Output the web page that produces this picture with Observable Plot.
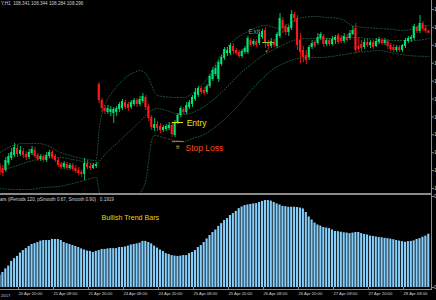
<!DOCTYPE html>
<html><head><meta charset="utf-8">
<script src="https://cdn.jsdelivr.net/npm/d3@7"></script>
<script src="https://cdn.jsdelivr.net/npm/@observablehq/plot@0.6"></script>
<style>
html,body{margin:0;padding:0;background:#000;overflow:hidden}
#wrap{position:relative;width:436px;height:300px;background:#000;overflow:hidden;font-family:"Liberation Sans",Arial,sans-serif}
.abs{position:absolute}
.lbl{white-space:pre;color:#d0d0d0;line-height:1}
</style></head><body>
<div id="wrap">
  <div id="main" class="abs" style="left:0;top:0"></div>
  <div id="sub" class="abs" style="left:0;top:194px"></div>
  <div class="abs" style="left:0;top:193px;width:432px;height:2px;background:#8a8a8a"></div>
  <div class="abs" style="left:431px;top:0;width:1px;height:290px;background:#8a8a8a"></div>
  <div class="abs" style="left:0;top:289px;width:432px;height:1px;background:#8a8a8a"></div>
  <div id="title" class="abs lbl" style="left:1px;top:2px;font-size:4.6px"></div>
  <div id="ind" class="abs lbl" style="left:0;top:197.5px;font-size:4.6px"></div>
</div>
<script>
const symbolTitle = "Y,H1  108.341 108.344 108.284 108.296";
const indicatorTitle = "ars (iPeriods 120, pSmooth 0.67, Smooth 0.90)   0.1919";

// OHLC, hourly bars (index 0 = 20 Apr 2017 14:00)
const open = [105.65,105.59,105.55,105.69,105.79,105.85,105.99,105.87,105.93,105.87,
105.81,105.89,105.95,105.85,105.77,105.83,105.75,105.83,105.91,105.83,
105.75,105.67,105.61,105.67,105.59,105.65,105.59,105.55,105.51,105.47,
105.69,105.63,105.59,105.63,107.27,106.95,106.79,106.71,106.71,106.69,
106.71,106.77,106.79,106.91,106.87,106.81,106.87,106.95,106.87,106.93,
107.01,106.83,106.61,106.39,106.47,106.43,106.35,106.37,106.39,106.45,
106.25,106.51,106.65,106.77,106.71,106.81,106.87,106.97,107.05,107.19,
107.15,107.11,107.23,107.37,107.47,107.37,107.67,107.79,107.89,107.89,
108.03,107.95,107.91,107.83,107.91,107.91,108.15,108.07,108.13,108.09,
108.21,108.35,108.11,108.03,108.11,108.03,108.23,108.55,108.43,108.31,
108.39,108.67,108.59,108.15,107.95,107.85,107.81,108.01,108.11,108.09,
108.19,108.23,108.07,108.15,108.07,108.15,108.25,108.19,108.13,108.21,
108.19,108.27,108.39,108.03,108.07,108.01,108.11,108.05,108.11,108.03,
108.11,108.15,108.09,108.13,108.05,108.01,107.95,108.01,107.95,108.03,
108.13,108.17,108.19,108.41,108.33,108.49,108.39,108.341];
const high = [105.69,105.65,105.81,105.89,105.99,106.09,106.05,106.03,105.99,105.93,
105.97,106.03,106.01,105.89,105.87,105.87,105.91,105.95,105.95,105.87,
105.79,105.71,105.73,105.71,105.69,105.69,105.65,105.61,105.55,105.79,
105.75,105.69,105.69,105.71,107.31,106.99,106.85,106.85,106.83,106.81,
106.83,106.91,106.97,106.95,106.91,106.95,106.99,106.99,107.03,107.09,
107.05,106.87,106.65,106.59,106.53,106.49,106.45,106.47,106.51,106.51,
106.55,106.69,106.83,106.81,106.91,106.95,107.05,107.19,107.23,107.23,
107.21,107.27,107.47,107.61,107.65,107.75,107.85,108.01,108.01,108.09,
108.09,107.99,107.95,107.97,108.03,108.23,108.19,108.17,108.17,108.31,
108.37,108.41,108.15,108.19,108.17,108.31,108.69,108.61,108.47,108.45,
108.75,108.71,108.65,108.29,108.03,107.95,108.05,108.15,108.15,108.29,
108.31,108.27,108.19,108.19,108.23,108.25,108.29,108.25,108.29,108.27,
108.35,108.43,108.49,108.19,108.15,108.17,108.19,108.15,108.15,108.19,
108.21,108.19,108.19,108.17,108.09,108.07,108.05,108.05,108.07,108.19,
108.23,108.25,108.47,108.45,108.65,108.53,108.45,108.344];
const low = [105.45,105.43,105.51,105.65,105.75,105.81,105.81,105.83,105.79,105.75,
105.77,105.85,105.79,105.73,105.73,105.71,105.71,105.79,105.77,105.71,
105.61,105.57,105.57,105.55,105.55,105.53,105.49,105.45,105.41,105.35,
105.57,105.55,105.57,105.59,106.89,106.71,106.67,106.67,106.63,106.49,
106.63,106.71,106.75,106.77,106.73,106.77,106.83,106.81,106.83,106.89,
106.75,106.53,106.35,106.33,106.33,106.29,106.31,106.33,106.35,106.21,
106.21,106.47,106.61,106.67,106.67,106.77,106.81,106.93,107.01,107.07,
107.05,107.07,107.19,107.33,107.43,107.31,107.63,107.75,107.83,107.85,
107.87,107.85,107.79,107.79,107.87,107.87,108.01,108.03,108.01,108.05,
108.17,107.99,107.97,107.99,108.01,107.99,108.19,108.29,108.25,108.23,
108.35,108.51,107.95,107.69,107.71,107.67,107.75,107.97,107.99,108.05,
108.15,108.01,108.03,108.03,108.05,108.07,108.07,108.09,108.09,108.11,
108.15,108.25,107.89,107.91,107.93,107.97,108.01,107.99,107.97,108.01,
108.07,108.05,108.05,107.97,107.93,107.91,107.91,107.91,107.91,107.99,
108.09,108.11,108.15,108.29,108.29,108.33,108.29,108.284];
const close = [105.51,105.49,105.75,105.83,105.91,106.01,105.87,105.95,105.85,105.81,
105.91,105.97,105.83,105.77,105.83,105.75,105.85,105.91,105.81,105.75,
105.65,105.61,105.69,105.59,105.65,105.57,105.53,105.49,105.47,105.69,
105.61,105.59,105.65,105.67,106.95,106.79,106.73,106.79,106.77,106.77,
106.79,106.87,106.93,106.81,106.79,106.91,106.95,106.87,106.97,107.03,
106.81,106.59,106.41,106.47,106.39,106.35,106.41,106.43,106.45,106.27,
106.51,106.65,106.79,106.71,106.85,106.91,107.01,107.11,107.19,107.11,
107.09,107.23,107.43,107.55,107.59,107.71,107.81,107.97,107.95,108.05,
107.93,107.89,107.83,107.93,107.99,108.19,108.05,108.13,108.05,108.27,
108.33,108.09,108.03,108.13,108.05,108.27,108.59,108.39,108.31,108.41,
108.67,108.59,108.05,107.91,107.81,107.75,108.01,108.09,108.03,108.21,
108.27,108.07,108.15,108.07,108.17,108.21,108.11,108.13,108.23,108.15,
108.29,108.35,107.95,107.97,107.99,108.11,108.05,108.11,108.01,108.13,
108.17,108.09,108.15,108.03,107.97,107.95,108.01,107.95,108.05,108.15,
108.19,108.21,108.43,108.33,108.49,108.37,108.33,108.296];

// Bollinger bands, read at selected bars
const upperIdx = [0,3,8,13,17,20,24,28,33,34,35,36,38,40,42,44,46,48,49,50,51,52,53,54,56,60,63,65,67,69,71,73,75,77,79,81,83,85,88,91,94,96,98,100,102,104,108,112,116,118,120,122,125,130,135,138,141,144,147];
const upperVal = [105.91,106.01,106.09,106.09,106.03,105.93,105.85,105.79,105.75,106.39,106.69,106.87,107.07,107.23,107.35,107.45,107.51,107.55,107.53,107.49,107.39,107.25,107.11,107.05,107.03,107.01,107.01,107.05,107.15,107.25,107.39,107.59,107.79,107.95,108.09,108.19,108.27,108.33,108.41,108.45,108.41,108.39,108.45,108.51,108.59,108.61,108.63,108.61,108.59,108.55,108.47,108.43,108.41,108.39,108.37,108.35,108.37,108.43,108.45];
const midIdx = [0,5,10,15,20,25,30,33,34,36,40,44,48,50,52,54,57,60,63,66,70,74,78,82,86,90,94,98,102,106,110,114,118,122,126,130,134,138,142,147];
const midVal = [105.55,105.63,105.73,105.79,105.81,105.77,105.71,105.67,105.73,105.87,106.09,106.31,106.53,106.65,106.75,106.79,106.75,106.69,106.67,106.71,106.83,107.01,107.23,107.47,107.67,107.85,107.97,108.09,108.17,108.19,108.19,108.19,108.21,108.21,108.19,108.17,108.15,108.15,108.15,108.19];
const lowerIdx = [0,5,10,15,20,25,30,33,34,35,36,40,44,47,49,50,51,52,53,56,60,63,66,70,74,78,82,86,90,94,98,102,106,110,116,120,126,130,134,140,147];
const lowerVal = [105.19,105.17,105.17,105.21,105.23,105.29,105.37,105.41,105.13,104.95,104.75,104.65,104.85,105.05,105.19,105.35,105.75,106.15,106.25,106.21,106.15,106.13,106.19,106.27,106.43,106.63,106.87,107.15,107.39,107.59,107.71,107.79,107.81,107.81,107.85,107.89,107.93,107.95,107.91,107.85,107.83];

// Bullish Trend Bars histogram (one value per bar)
const trend = [0.045,0.054,0.067,0.077,0.094,0.104,0.112,0.124,0.133,0.140,
0.148,0.155,0.158,0.162,0.167,0.169,0.169,0.169,0.173,0.173,
0.173,0.169,0.162,0.158,0.155,0.151,0.148,0.144,0.139,0.135,
0.131,0.130,0.126,0.130,0.133,0.137,0.137,0.139,0.140,0.140,
0.140,0.144,0.144,0.146,0.149,0.153,0.155,0.157,0.160,0.166,
0.166,0.162,0.157,0.149,0.142,0.135,0.130,0.122,0.119,0.115,
0.113,0.112,0.113,0.115,0.115,0.122,0.126,0.133,0.144,0.151,
0.162,0.175,0.187,0.198,0.207,0.220,0.230,0.241,0.248,0.259,
0.266,0.274,0.284,0.290,0.295,0.297,0.299,0.301,0.302,0.306,
0.310,0.313,0.313,0.311,0.306,0.301,0.297,0.292,0.291,0.289,
0.289,0.289,0.288,0.286,0.283,0.270,0.254,0.243,0.232,0.225,
0.221,0.216,0.214,0.212,0.207,0.202,0.201,0.199,0.197,0.196,
0.194,0.196,0.198,0.198,0.194,0.191,0.189,0.185,0.184,0.182,
0.180,0.179,0.177,0.176,0.174,0.172,0.169,0.167,0.165,0.163,
0.165,0.166,0.168,0.173,0.176,0.181,0.185,0.1919];

const timeTickIdx = [6,18,30,42,54,66,78,90,102,114,126,138];
const timeTickLabels = ["20 Apr 20:00","21 Apr 08:00","21 Apr 20:00","24 Apr 08:00","24 Apr 20:00","25 Apr 08:00","25 Apr 20:00","26 Apr 08:00","26 Apr 20:00","27 Apr 08:00","27 Apr 20:00","28 Apr 08:00"];
const firstDateLabel = "2017";
const priceTicks = [108.770,108.412,108.054,107.696,107.338,106.980,106.622,106.264,105.906,105.548,105.190];

// Trade annotations
const entryTrade = {price: 106.51, from: 59.1, to: 62.9, label: "Entry", labelAt: 64.0, labelPrice: 106.49};
const stopTrade = {price: 106.13, from: 59.1, to: 63.2, label: "Stop Loss", labelAt: 63.6, labelPrice: 105.99, markAt: 60.9, markPrice: 106.01};
const exitTrade = {price: 108.11, from: 90.0, to: 94.1, label: "Exit", labelAt: 85.2, labelPrice: 108.33, markAt: 91.7, markPrice: 107.95};

const BULL = "#00e676", BEAR = "#ff1a1a", BAND = "#1b5c3c";
const XDOM = [0.171, 147.93];

const bars = open.map((o, i) => ({i, open: o, high: high[i], low: low[i], close: close[i], col: close[i] >= o ? BULL : BEAR}));
const pts = (idx, val) => idx.map((i, k) => ({i, v: val[k]}));
const bandStyle = {x: "i", y: "v", stroke: BAND, strokeWidth: 1, strokeDasharray: "1 1.8", curve: "monotone-x", clip: true};

const main = Plot.plot({
  width: 436, height: 194,
  marginTop: 0, marginBottom: 1, marginLeft: 0, marginRight: 5,
  style: {background: "#000", color: "#c8c8c8", fontFamily: "Liberation Sans, Arial, sans-serif", fontSize: "5px"},
  x: {domain: XDOM, axis: null},
  y: {domain: [105.09, 108.95], axis: null},
  marks: [
    Plot.line(pts(upperIdx, upperVal), bandStyle),
    Plot.line(pts(midIdx, midVal), bandStyle),
    Plot.line(pts(lowerIdx, lowerVal), bandStyle),
    Plot.ruleX(bars, {x: "i", y1: "low", y2: "high", stroke: "col", strokeWidth: 1, strokeOpacity: 0.85}),
    Plot.rect(bars, {x1: d => d.i - 0.34, x2: d => d.i + 0.34, y1: "open", y2: "close", fill: "col"}),
    Plot.ruleY([entryTrade], {y: "price", x1: "from", x2: "to", stroke: "#e8e800", strokeWidth: 1}),
    Plot.ruleY([stopTrade], {y: "price", x1: "from", x2: "to", stroke: "#ff4a1a", strokeWidth: 1.2}),
    Plot.ruleY([exitTrade], {y: "price", x1: "from", x2: "to", stroke: "#7acc3a", strokeWidth: 1}),
    Plot.text([entryTrade], {x: "labelAt", y: "labelPrice", text: "label", fill: "#e6e600", fontSize: 8.5, textAnchor: "start"}),
    Plot.text([stopTrade], {x: "labelAt", y: "labelPrice", text: "label", fill: "#ff4a1a", fontSize: 8.5, textAnchor: "start"}),
    Plot.text([stopTrade], {x: "markAt", y: "markPrice", text: () => "θ", fill: "#d8a020", fontSize: 6}),
    Plot.text([exitTrade], {x: "labelAt", y: "labelPrice", text: "label", fill: "#4caf50", fontSize: 7, textAnchor: "start"}),
    Plot.text([exitTrade], {x: "markAt", y: "markPrice", text: () => "↙", fill: "#c8b400", fontSize: 5}),
    Plot.axisY({anchor: "right", ticks: priceTicks, tickSize: 2, tickPadding: 0.5, tickFormat: d => d.toFixed(3), label: null, fill: "#d0d0d0", stroke: "#8a8a8a", textAnchor: "start"})
  ]
});
document.getElementById("main").appendChild(main);

const trendBars = trend.map((v, i) => ({i, v}));
const sub = Plot.plot({
  width: 436, height: 106,
  marginTop: 2, marginBottom: 13, marginLeft: 0, marginRight: 5,
  style: {background: "#000", color: "#c8c8c8", fontFamily: "Liberation Sans, Arial, sans-serif", fontSize: "4.2px"},
  x: {domain: XDOM, axis: null},
  y: {domain: [0, 0.3276], axis: null},
  marks: [
    Plot.rectY(trendBars, {x1: d => d.i - 0.36, x2: d => d.i + 0.36, y: "v", fill: "#87cefa"}),
    Plot.axisX({ticks: timeTickIdx, tickFormat: d => timeTickLabels[timeTickIdx.indexOf(d)], tickSize: 2, tickPadding: 2.5, textAnchor: "start", dx: 1, label: null, fill: "#d0d0d0", stroke: "#8a8a8a", fontSize: 4.2}),
    Plot.text([{i: 0.35, label: firstDateLabel}], {x: "i", y: 0, text: "label", dy: 8.5, textAnchor: "start", fill: "#d0d0d0", fontSize: 4.2}),
    Plot.text([{i: 34.8, v: 0.252, t: "Bullish Trend Bars"}], {x: "i", y: "v", text: "t", fill: "#e6d200", fontSize: 7.1, textAnchor: "start"}),
    Plot.axisY({anchor: "right", ticks: [0.3276, 0], tickSize: 2, tickPadding: 0.5, tickFormat: d => d === 0 ? "0.0000" : d.toFixed(4), label: null, fill: "#d0d0d0", stroke: "#8a8a8a", textAnchor: "start", fontSize: 5})
  ]
});
document.getElementById("sub").appendChild(sub);

document.getElementById("title").textContent = symbolTitle;
document.getElementById("ind").textContent = indicatorTitle;
</script>
</body></html>
